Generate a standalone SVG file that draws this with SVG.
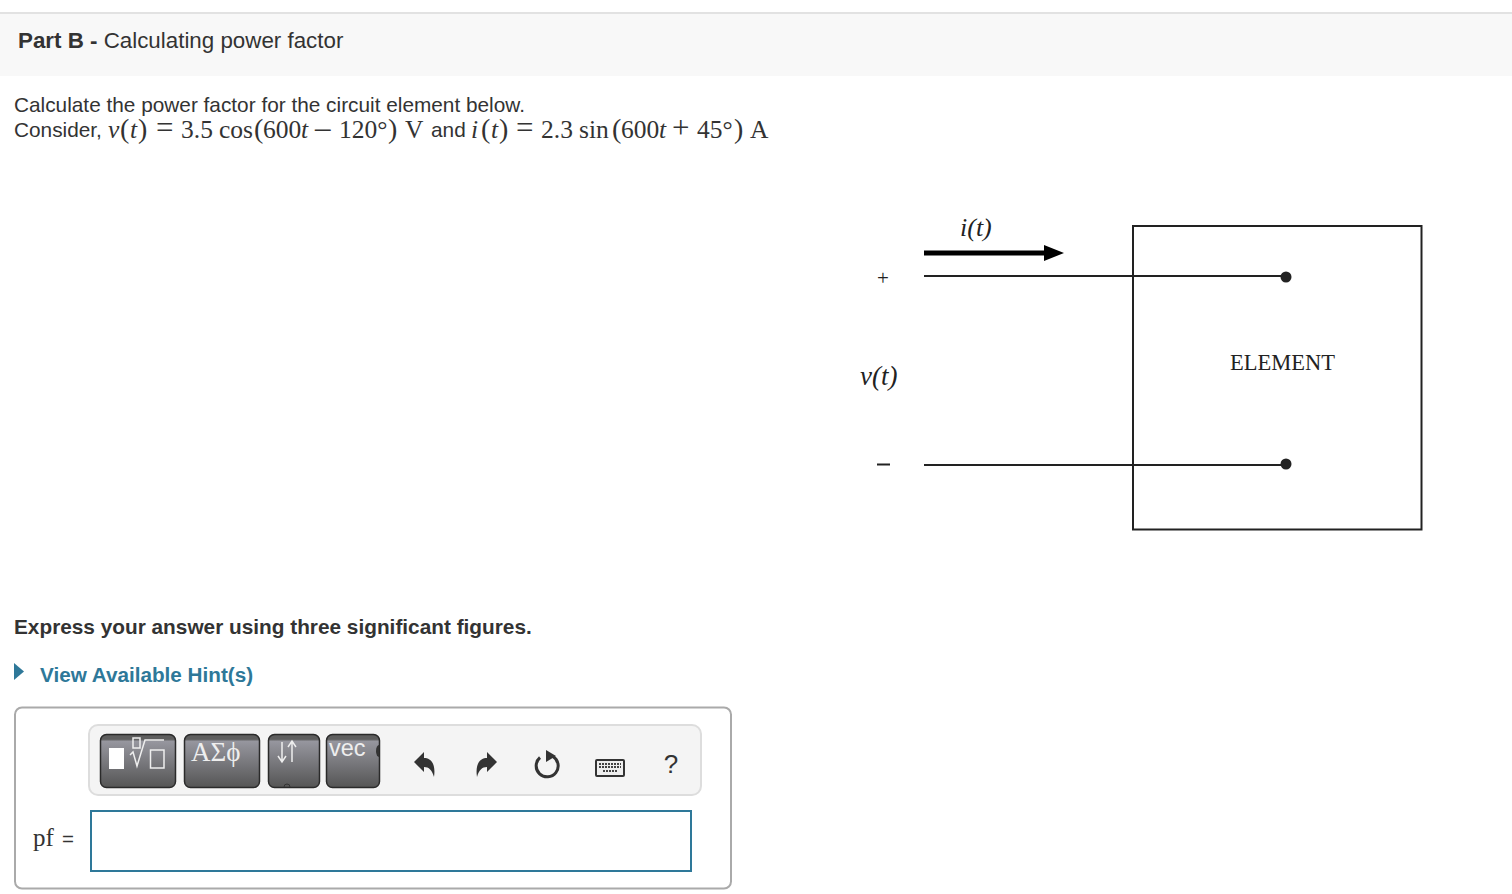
<svg xmlns="http://www.w3.org/2000/svg" width="1512" height="894" viewBox="0 0 1512 894">
<defs>
<linearGradient id="btn" x1="0" y1="0" x2="0" y2="1"><stop offset="0" stop-color="#5e5e5e"/><stop offset="0.09" stop-color="#5e5e5e"/><stop offset="0.13" stop-color="#96969e"/><stop offset="1" stop-color="#555"/></linearGradient>
</defs>
<style>
.s{font-family:"Liberation Sans",Arial,sans-serif;fill:#333}
.b{font-weight:700}
.m{font-family:"Liberation Serif","Times New Roman",serif;fill:#333;font-size:25.500px}
.i{font-style:italic}
.p{font-size:28px}
.e{font-size:31px}
.d{font-family:"Liberation Serif","Times New Roman",serif;fill:#222}
.w{fill:none;stroke:#222;stroke-width:2}
.btn{fill:url(#btn);stroke:#2a2a2a;stroke-width:1.500}
.ic{fill:#333}
.g{fill:none;stroke:#eee;stroke-width:1.500}
</style>
<rect width="1512" height="894" fill="#fff"/>
<g id="header">
<rect x="0" y="13" width="1512" height="63" fill="#f8f8f8"/>
<rect x="0" y="12" width="1512" height="2" fill="#e2e2e2"/>
<text x="18" y="48" class="s" font-size="22.350"><tspan class="b">Part B - </tspan>Calculating power factor</text>
</g>
<g id="question">
<text x="14" y="112" class="s" font-size="20.800">Calculate the power factor for the circuit element below.</text>
<text x="14" y="137" class="s" font-size="20.800">Consider,</text>
<text class="m" y="138"><tspan x="108" class="i">v</tspan><tspan x="120" class="p">(</tspan><tspan x="130" class="i">t</tspan><tspan x="138" class="p">)</tspan><tspan x="156" class="e">=</tspan><tspan x="181">3.5</tspan><tspan x="219">cos</tspan><tspan x="254" class="p">(</tspan><tspan x="263">600</tspan><tspan x="301" class="i">t</tspan><tspan x="315" class="e">–</tspan><tspan x="339">120°</tspan><tspan x="388" class="p">)</tspan><tspan x="405">V</tspan></text>
<text x="431" y="137" class="s" font-size="20.800">and</text>
<text class="m" y="138"><tspan x="471" class="i">i</tspan><tspan x="481" class="p">(</tspan><tspan x="491" class="i">t</tspan><tspan x="499" class="p">)</tspan><tspan x="516" class="e">=</tspan><tspan x="541">2.3</tspan><tspan x="579">sin</tspan><tspan x="612" class="p">(</tspan><tspan x="621">600</tspan><tspan x="659" class="i">t</tspan><tspan x="672" class="e">+</tspan><tspan x="697">45°</tspan><tspan x="734" class="p">)</tspan><tspan x="750">A</tspan></text>
</g>
<g id="connectors">
<path d="M924 276H1285M924 465H1285" class="w"/>
<path d="M924 253H1046" fill="none" stroke="#000" stroke-width="5"/>
<path d="M1044 245L1064 253L1044 261Z" fill="#000"/>
</g>
<g id="element">
<rect x="1133" y="226" width="288.500" height="303.500" class="w"/>
<circle cx="1286" cy="277" r="5.500" fill="#222"/>
<circle cx="1286" cy="464" r="5.500" fill="#222"/>
<text x="1230" y="370" class="d" font-size="23" textLength="105" lengthAdjust="spacingAndGlyphs">ELEMENT</text>
</g>
<g id="labels">
<text x="960" y="236" class="d i" font-size="26">i(t)</text>
<text x="883" y="285" class="d" font-size="21" text-anchor="middle">+</text>
<text x="860" y="385" class="d i" font-size="27">v(t)</text>
<rect x="877" y="463.500" width="13" height="2" fill="#222"/>
</g>
<g id="instruction">
<text x="14" y="634" class="s b" font-size="20.800">Express your answer using three significant figures.</text>
<path d="M14 663L24 671.500L14 680Z" fill="#2e7899"/>
<text x="40" y="682" class="s b" font-size="20.700" style="fill:#2e7899">View Available Hint(s)</text>
</g>
<g id="answer-panel">
<rect x="15" y="707.500" width="716" height="181" rx="7" fill="#fff" stroke="#aaa" stroke-width="2"/>
</g>
<g id="toolbar">
<rect x="89" y="725" width="612" height="70" rx="9" fill="#f4f4f4" stroke="#ddd" stroke-width="2"/>
<rect x="100.500" y="734.500" width="75" height="53" rx="6" class="btn"/>
<rect x="184.500" y="734.500" width="75" height="53" rx="6" class="btn"/>
<rect x="268.500" y="734.500" width="51" height="53" rx="6" class="btn"/>
<rect x="326.500" y="734.500" width="53" height="53" rx="6" class="btn"/>
<rect x="109" y="748" width="15" height="21" fill="#fff"/>
<path class="g" d="M130 755L133 752L137 766L145 740H164M150.500 750H164V768H150.500ZM133 738H140V748H133Z"/>
<text x="191" y="761" font-family="Liberation Serif,serif" font-size="27" fill="#eee">ΑΣϕ</text>
<path class="g" d="M282 742V761M278 756L282 762L286 756M292 762V742M288 747L292 741L296 747"/>
<path d="M284 787A3 3 0 0 1 290 787" fill="none" stroke="#333"/>
<text x="329" y="756" font-family="Liberation Sans,sans-serif" font-size="23.500" fill="#eee">vec</text>
<path d="M379 745A3 6 0 0 0 379 757Z" fill="#333"/>
<path class="ic" d="M414 762L424 752V758C431 758 436 764 434 777C432 770 429 767 424 767V772Z"/>
<path class="ic" d="M497 762L487 752V758C480 758 475 764 477 777C479 770 482 767 487 767V772Z"/>
<path d="M540 757.500A11 11 0 1 0 553 756.500" fill="none" stroke="#333" stroke-width="3"/>
<path class="ic" d="M546 750L556 756L546 762Z"/>
<rect x="596" y="760" width="28" height="16" rx="1" fill="#eee" stroke="#333" stroke-width="2"/>
<path d="M599 764H621M599 767H621M603 771H617" stroke="#444" stroke-width="2" stroke-dasharray="2 1"/>
<text x="671" y="773" class="s" font-size="26" text-anchor="middle">?</text>
</g>
<g id="input">
<text x="33" y="846" font-family="Liberation Serif,serif" font-size="25" fill="#333">pf</text>
<text x="62" y="846" class="s" font-size="20.500">=</text>
<rect x="91" y="811" width="600" height="60" fill="#fff" stroke="#2e7899" stroke-width="2"/>
</g>
</svg>
